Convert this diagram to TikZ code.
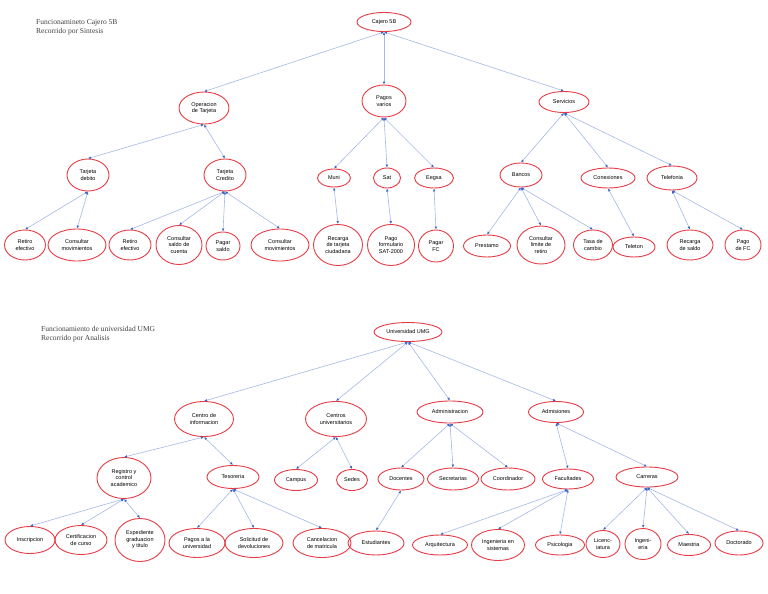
\documentclass[tikz,border=0pt]{standalone}
\usepackage{fontspec}
\setmainfont{Liberation Serif}
\newfontfamily\nodefont{Liberation Sans}
\usetikzlibrary{shapes.geometric,arrows.meta}
\definecolor{lineblue}{RGB}{165,185,230}
\definecolor{tipblue}{RGB}{60,100,200}
\definecolor{ellred}{RGB}{230,60,70}
\tikzset{
 el/.style={ellipse,draw=ellred,line width=0.9pt,inner sep=0pt,align=center,font=\nodefont\fontsize{5.5}{6.5}\selectfont},
 conn/.style={draw=lineblue,line width=0.6pt,{Latex[length=3pt,width=2.6pt,color=tipblue]}-{Latex[length=3pt,width=2.6pt,color=tipblue]}},
 ttl/.style={anchor=north west,align=left,text=black!75,font=\fontsize{7.5}{9}\selectfont,inner sep=0pt}
}
\newcommand{\E}[6]{\node[el,minimum width=#4pt,minimum height=#5pt] (#1) at (#2,#3) {#6};}
\begin{document}
\begin{tikzpicture}[x=1pt,y=-1pt]
\useasboundingbox[fill=white] (0,0) rectangle (768,594);
\node[ttl] (t1) at (36,19) {Funcionamineto Cajero 5B\\Recorrido por Sintesis};
\node[ttl] (t2) at (41,326) {Funcionamiento de universidad UMG\\Recorrido por Analisis};
% top tree
\E{cajero}{384}{22}{54}{19}{Cajero 5B}
\E{op}{204}{108}{50}{32}{Operacion\\de Tarjeta}
\E{pagos}{384}{101}{44}{32}{Pagos\\varios}
\E{serv}{564}{102}{50}{21}{Servicios}
\E{tdeb}{88}{175}{42}{32}{Tarjeta\\debito}
\E{tcred}{225}{175}{42}{32}{Tarjeta\\Credito}
\E{muni}{334}{178}{33}{18}{Muni}
\E{sat}{387}{178}{27}{20}{Sat}
\E{eegsa}{434}{178}{39}{20}{Eegsa}
\E{bancos}{521}{175}{42}{24}{Bancos}
\E{conex}{608}{178}{54}{20}{Conexiones}
\E{telef}{672}{178}{50}{24}{Telefonia}
\E{r1}{25}{245}{41}{30}{Retiro\\efectivo}
\E{cm1}{77}{245}{58}{32}{Consultar\\movimientos}
\E{r2}{130}{245}{42}{30}{Retiro\\efectivo}
\E{csal}{179}{245}{46}{39}{Consultar\\saldo de\\cuenta}
\E{pagar}{223}{246}{34}{28}{Pagar\\saldo}
\E{cm2}{280}{245}{58}{32}{Consultar\\movimientos}
\E{rec}{338}{245}{49}{41}{Recarga\\de tarjeta\\ciudadana}
\E{pago}{391}{245}{47}{41}{Pago\\formulario\\SAT-2000}
\E{pfc}{436}{246}{35}{32}{Pagar\\FC}
\E{prest}{487}{246}{47}{22}{Prestamo}
\E{clim}{541}{245}{48}{38}{Consultar\\limite de\\retiro}
\E{tasa}{593}{245}{39}{30}{Tasa de\\cambio}
\E{tele}{634}{247}{42}{20}{Teleton}
\E{rsal}{690}{245}{46}{30}{Recarga\\de saldo}
\E{pgfc}{743}{245}{36}{30}{Pago\\de FC}
\foreach \a/\b in {cajero/op,cajero/pagos,cajero/serv,op/tdeb,op/tcred,pagos/muni,pagos/sat,pagos/eegsa,serv/bancos,serv/conex,serv/telef,tdeb/r1,tdeb/cm1,tcred/r2,tcred/csal,tcred/pagar,tcred/cm2,muni/rec,sat/pago,eegsa/pfc,bancos/prest,bancos/clim,bancos/tasa,conex/tele,telef/rsal,telef/pgfc}
 \draw[conn] (\a.south) -- (\b.north);
% bottom tree
\E{umg}{408}{332}{68}{19}{Universidad UMG}
\E{centro}{204}{419}{59}{35}{Centro de\\informacion}
\E{cu}{336}{419}{61}{35}{Centros\\universitarios}
\E{adm}{450}{412}{66}{22}{Administracion}
\E{adms}{556}{412}{55}{21}{Admisiones}
\E{reg}{124}{478}{54}{41}{Registro y\\control\\academico}
\E{teso}{233}{477}{52}{23}{Tesoreria}
\E{campus}{296}{480}{43}{21}{Campus}
\E{sedes}{352}{480}{31}{21}{Sedes}
\E{doc}{401}{479}{46}{22}{Docentes}
\E{sec}{453}{479}{51}{22}{Secretarias}
\E{coord}{508}{479}{54}{22}{Coordinador}
\E{fac}{568}{479}{51}{20}{Facultades}
\E{carr}{647}{477}{62}{20}{Carreras}
\E{insc}{30}{540}{50}{27}{Inscripcion}
\E{cert}{81}{540}{52}{29}{Certificacion\\de curso}
\E{exp}{140}{540}{50}{43}{Expediente\\graduacion\\y titulo}
\E{pu}{197}{543}{56}{29}{Pagos a la\\universidad}
\E{sol}{254}{543}{58}{29}{Solicitud de\\devoluciones}
\E{can}{322}{543}{58}{29}{Cancelacion\\de matricula}
\E{est}{376}{543}{56}{24}{Estudiantes}
\E{arq}{440}{545}{55}{20}{Arquitectura}
\E{ing}{498}{545}{53}{31}{Ingenieria en\\sistemas}
\E{psi}{560}{545}{49}{20}{Psicologia}
\E{lic}{603}{544}{34}{27}{Licenc-\\iatura}
\E{inge}{643}{544}{36}{31}{Ingeni-\\eria}
\E{mae}{689}{545}{43}{21}{Maestria}
\E{dct}{739}{543}{48}{24}{Doctorado}
\foreach \a/\b in {umg/centro,umg/cu,umg/adm,umg/adms,centro/reg,centro/teso,cu/campus,cu/sedes,adm/doc,adm/sec,adm/coord,adms/fac,adms/carr,reg/insc,reg/cert,reg/exp,teso/pu,teso/sol,teso/can,doc/est,fac/arq,fac/ing,fac/psi,carr/lic,carr/inge,carr/mae,carr/dct}
 \draw[conn] (\a.south) -- (\b.north);
\end{tikzpicture}
\end{document}
